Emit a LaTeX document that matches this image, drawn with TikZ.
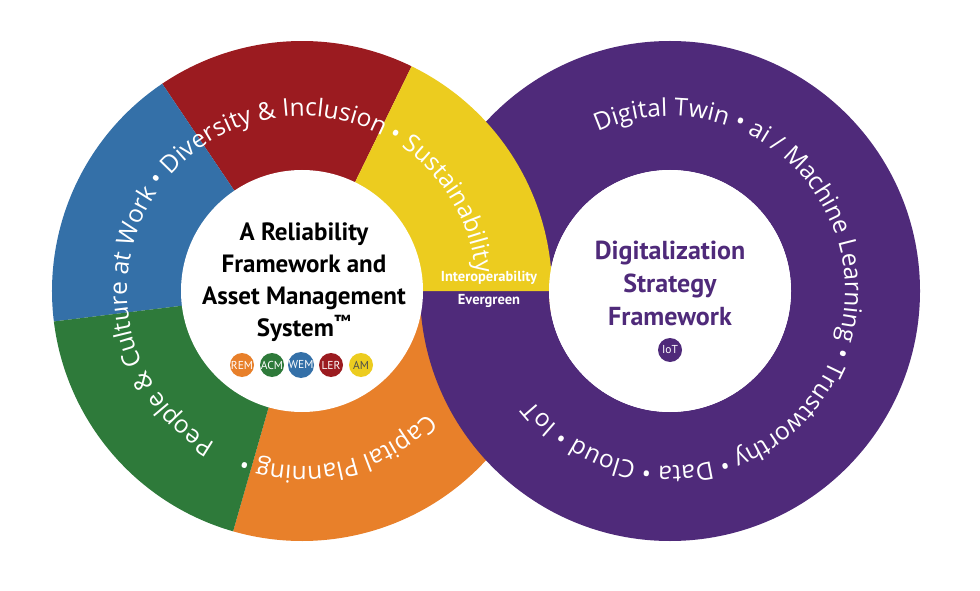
\documentclass[tikz,border=0pt]{standalone}
\usepackage{fontspec}
\setmainfont{PT Sans}
\newfontfamily\ringfont{Open Sans}
\usetikzlibrary{decorations.text}
\definecolor{cred}{HTML}{9B1B20}
\definecolor{cblue}{HTML}{3470A8}
\definecolor{cgreen}{HTML}{2E7A3A}
\definecolor{corange}{HTML}{E8802A}
\definecolor{cyellow}{HTML}{ECCC1F}
\definecolor{cpurple}{HTML}{4F2A7A}
\begin{document}
\begin{tikzpicture}[x=1pt,y=1pt,
  badge/.style={circle,minimum size=24pt,inner sep=0pt,font=\fontsize{11.5}{12}\selectfont,text=white},
  ringtext/.style={decorate,decoration={text along path,text align=center,
     text={|\ringfont\fontsize{24.5}{24}\selectfont\color{white}|#1}}}]
\useasboundingbox (0,0) rectangle (980,590);
\coordinate (L) at (302,299);
\coordinate (R) at (670,299);
% left pies
\fill[corange] (L) -- ++(254:250) arc (254:360:250) -- cycle;
\fill[cpurple,even odd rule] (R) circle (250) (R) circle (121);
\fill[cred] (L) -- ++(64:250) arc (64:124:250) -- cycle;
\fill[cblue] (L) -- ++(124:250) arc (124:187:250) -- cycle;
\fill[cgreen] (L) -- ++(187:250) arc (187:254:250) -- cycle;
\fill[cyellow] (L) -- ++(0:250) arc (0:64:250) -- cycle;
\fill[white] (R) circle (121);
\fill[white] (L) circle (121);
% ring texts
\path[ringtext={People {\&} Culture at Work • Diversity {\&} Inclusion • Sustainability}]
  (L) ++(252:175) arc (252:-6:175);
\path[ringtext={Capital Planning •}]
  (L) ++(326:175) arc (326:240:175);
\path[ringtext={Digital Twin • ai / Machine Learning • Trustworthy • Data • Cloud • IoT}]
  (R) ++(128:175) arc (128:-155:175);
% centre texts
\node[font=\bfseries\fontsize{25}{32}\selectfont,align=center] (lt) at (304,308)
  {A Reliability\\Framework and\\Asset Management\\System\textsuperscript{™}};
\node[font=\bfseries\fontsize{26}{33}\selectfont,align=center,text=cpurple] (rt) at (670,307)
  {Digitalization\\Strategy\\Framework};
\node[badge,fill=corange] (b1) at (242,225) {REM};
\node[badge,fill=cgreen] (b2) at (272,225) {ACM};
\node[badge,fill=cblue] (b3) at (301,225) {WEM};
\node[badge,fill=cred] (b4) at (331,225) {LER};
\node[badge,fill=cyellow,text=black!70] (b5) at (361,225) {AM};
\node[badge,fill=cpurple] (b6) at (670,240) {IoT};
\node[font=\bfseries\fontsize{14.5}{14}\selectfont,text=white] (io) at (489,312) {Interoperability};
\node[font=\bfseries\fontsize{14.5}{14}\selectfont,text=white] (ev) at (489,289) {Evergreen};
\end{tikzpicture}
\end{document}
